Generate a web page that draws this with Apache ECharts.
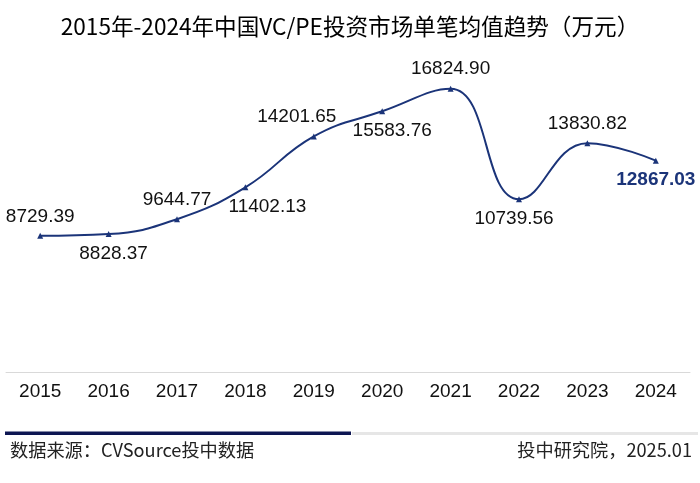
<!DOCTYPE html>
<html>
<head>
<meta charset="utf-8">
<script src="https://cdn.jsdelivr.net/npm/echarts@6/dist/echarts.min.js"></script>
<style>
  html, body { margin: 0; padding: 0; background: #fff; }
  #main { width: 700px; height: 483px; }
</style>
</head>
<body>
<div id="main"></div>
<script>
// 年份
var years = ['2015', '2016', '2017', '2018', '2019', '2020', '2021', '2022', '2023', '2024'];
// 单笔均值（万元）
var avgValues = [8729.39, 8828.37, 9644.77, 11402.13, 14201.65, 15583.76, 16824.90, 10739.56, 13830.82, 12867.03];

var chart = echarts.init(document.getElementById('main'));

// 标签摆放：上/下 和水平偏移
var labelSide = ['top', 'bottom', 'top', 'bottom', 'top', 'bottom', 'top', 'bottom', 'top', 'bottom'];
var labelShift = [0, 5, 0, 22, -17, 10, 0, -5, 0, 0];

var seriesData = avgValues.map(function (v, i) {
  var last = i === avgValues.length - 1;
  return {
    value: v,
    label: {
      position: labelSide[i],
      offset: [labelShift[i], 0],
      fontWeight: last ? 'bold' : 'normal',
      color: last ? '#1b3479' : '#111'
    }
  };
});

var cnFont = '"Noto Sans CJK SC", "Microsoft YaHei", sans-serif';

chart.setOption({
  backgroundColor: '#ffffff',
  animation: false,
  title: {
    text: '2015年-2024年中国VC/PE投资市场单笔均值趋势（万元）',
    left: 'center',
    top: 10,
    textStyle: { fontFamily: cnFont, fontSize: 22.6, fontWeight: 'normal', color: '#000' }
  },
  grid: { left: 6, right: 10, top: 31, bottom: 110.3, containLabel: false },
  xAxis: {
    type: 'category',
    data: years,
    boundaryGap: true,
    axisLine: { lineStyle: { color: '#d9d9d9', width: 1 } },
    axisTick: { show: false },
    axisLabel: { color: '#111', fontFamily: 'Liberation Sans, Arial', fontSize: 19, margin: 10 }
  },
  yAxis: {
    type: 'value',
    min: 1200,
    max: 20000,
    show: false
  },
  series: [{
    type: 'line',
    data: seriesData,
    smooth: 0.45,
    symbol: 'triangle',
    symbolSize: 6,
    lineStyle: { color: '#1b3479', width: 2 },
    itemStyle: { color: '#1b3479' },
    label: {
      show: true,
      distance: 7,
      fontFamily: 'Liberation Sans, Arial',
      fontSize: 19,
      formatter: function (p) { return p.value.toFixed(2); }
    }
  }],
  graphic: [
    { type: 'rect', left: 5, top: 431.5, shape: { width: 346, height: 3.5 }, style: { fill: '#0d1652' } },
    { type: 'rect', left: 352, top: 432, shape: { width: 346, height: 3 }, style: { fill: '#e6e6e6' } },
    {
      type: 'text', left: 10, top: 441,
      style: { text: '数据来源：CVSource投中数据', fontFamily: cnFont, fontSize: 18.2, fill: '#222' }
    },
    {
      type: 'text', right: 8, top: 441,
      style: { text: '投中研究院，2025.01', fontFamily: cnFont, fontSize: 18.2, fill: '#222' }
    }
  ]
});
</script>
</body>
</html>
